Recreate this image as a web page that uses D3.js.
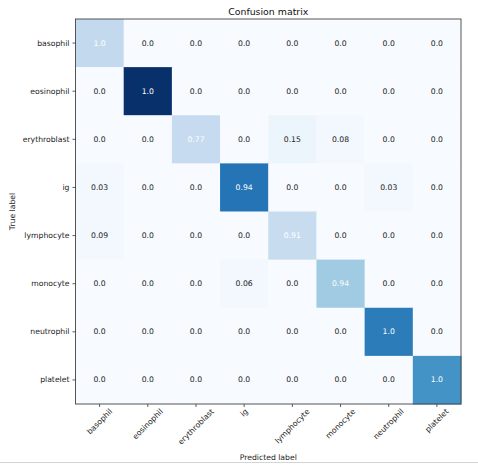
<!DOCTYPE html>
<html>
<head>
<meta charset="utf-8">
<script src="https://cdn.jsdelivr.net/npm/d3@7"></script>
<style>
  body { margin: 0; background: #fff; }
  text { font-family: "DejaVu Sans", sans-serif; }
</style>
</head>
<body>
<div id="chart"></div>
<script>
// class names (same order on both axes)
const labels = ['basophil', 'eosinophil', 'erythroblast', 'ig', 'lymphocyte', 'monocyte', 'neutrophil', 'platelet'];

// normalized values shown in the cells (row = true label)
const shares = [
    [1.0, 0, 0, 0, 0, 0, 0, 0],
    [0, 1.0, 0, 0, 0, 0, 0, 0],
    [0, 0, 0.77, 0, 0.15, 0.08, 0, 0],
    [0.03, 0, 0, 0.94, 0, 0, 0.03, 0],
    [0.09, 0, 0, 0, 0.91, 0, 0, 0],
    [0, 0, 0, 0.06, 0, 0.94, 0, 0],
    [0, 0, 0, 0, 0, 0, 1.0, 0],
    [0, 0, 0, 0, 0, 0, 0, 1.0]
];

// estimated samples per true class (cell shading follows raw counts)
const rowTotals = [78, 300, 97, 236, 79, 118, 213, 186];

// Blues colormap stops
const bluesStops = ['#f7fbff', '#deebf7', '#c6dbef', '#9ecae1', '#6baed6', '#4292c6', '#2171b5', '#08519c', '#08306b'];

const width = 478;
const height = 467;
const plot = { left: 75.5, top: 19, right: 461, bottom: 404 };
const fontSize = 7.7;

const svg = d3.select('#chart')
    .append('svg')
    .attr('width', width)
    .attr('height', height);

svg.append('rect')
    .attr('width', width)
    .attr('height', height)
    .attr('fill', '#fff');

// flatten into cells
const cells = [];
shares.forEach((row, i) => {
    row.forEach((v, j) => {
        cells.push({ row: labels[i], col: labels[j], value: v, count: v * rowTotals[i] });
    });
});

const x = d3.scaleBand()
    .domain(labels)
    .range([plot.left, plot.right]);

const y = d3.scaleBand()
    .domain(labels)
    .range([plot.top, plot.bottom]);

const maxCount = d3.max(cells, d => d.count);
const blues = d3.scaleLinear()
    .domain(bluesStops.map((c, i) => i / (bluesStops.length - 1)))
    .range(bluesStops)
    .interpolate(d3.interpolateRgb);
const color = v => blues(v / maxCount);

const thresh = d3.max(cells, d => d.value) / 2;
const fmt = v => Number.isInteger(v) ? v.toFixed(1) : String(v);

// heatmap cells
svg.append('g')
    .selectAll('rect')
    .data(cells)
    .enter()
    .append('rect')
    .attr('x', d => x(d.col))
    .attr('y', d => y(d.row))
    .attr('width', x.bandwidth() + 0.5)
    .attr('height', y.bandwidth() + 0.5)
    .attr('fill', d => color(d.count));

// cell values
svg.append('g')
    .selectAll('text')
    .data(cells)
    .enter()
    .append('text')
    .attr('x', d => x(d.col) + x.bandwidth() / 2)
    .attr('y', d => y(d.row) + y.bandwidth() / 2)
    .attr('text-anchor', 'middle')
    .attr('dominant-baseline', 'central')
    .attr('font-size', fontSize)
    .attr('fill', d => d.value > thresh ? '#fff' : '#222')
    .text(d => fmt(d.value));

// frame
svg.append('rect')
    .attr('x', plot.left)
    .attr('y', plot.top)
    .attr('width', plot.right - plot.left)
    .attr('height', plot.bottom - plot.top)
    .attr('fill', 'none')
    .attr('stroke', '#444')
    .attr('stroke-width', 0.9);

// y axis
const yAxis = svg.append('g')
    .attr('transform', `translate(${plot.left}, 0)`)
    .call(d3.axisLeft(y).tickSize(3).tickPadding(3));
yAxis.select('.domain').remove();
yAxis.selectAll('line').attr('stroke', '#333').attr('stroke-width', 0.8);
yAxis.selectAll('text')
    .attr('font-size', fontSize)
    .attr('font-family', '"DejaVu Sans", sans-serif')
    .attr('fill', '#222');

// x axis, labels rotated 45 degrees and centered under the tick
const xAxis = svg.append('g')
    .attr('transform', `translate(0, ${plot.bottom})`)
    .call(d3.axisBottom(x).tickSize(3));
xAxis.select('.domain').remove();
xAxis.selectAll('line').attr('stroke', '#333').attr('stroke-width', 0.8);
xAxis.selectAll('text')
    .attr('font-size', fontSize)
    .attr('font-family', '"DejaVu Sans", sans-serif')
    .attr('fill', '#222')
    .attr('text-anchor', 'middle')
    .attr('dominant-baseline', 'central')
    .attr('y', 0)
    .attr('dy', null)
    .each(function () {
        const w = this.getComputedTextLength();
        const half = (w + fontSize) * Math.SQRT1_2 / 2;
        d3.select(this).attr('transform', `translate(0, ${3.5 + half}) rotate(-45)`);
    });

// title and axis labels
svg.append('text')
    .attr('x', (plot.left + plot.right) / 2)
    .attr('y', 14.5)
    .attr('text-anchor', 'middle')
    .attr('font-size', 9.4)
    .attr('fill', '#111')
    .text('Confusion matrix');

svg.append('text')
    .attr('x', (plot.left + plot.right) / 2)
    .attr('y', 459.5)
    .attr('text-anchor', 'middle')
    .attr('font-size', fontSize)
    .attr('fill', '#222')
    .text('Predicted label');

svg.append('text')
    .attr('transform', 'rotate(-90)')
    .attr('x', -(plot.top + plot.bottom) / 2)
    .attr('y', 14.5)
    .attr('text-anchor', 'middle')
    .attr('font-size', fontSize)
    .attr('fill', '#222')
    .text('True label');

// output cell border line under the figure
svg.append('line')
    .attr('x1', 0)
    .attr('x2', width)
    .attr('y1', 462.5)
    .attr('y2', 462.5)
    .attr('stroke', '#d4d4d4')
    .attr('stroke-width', 1);
</script>
</body>
</html>
